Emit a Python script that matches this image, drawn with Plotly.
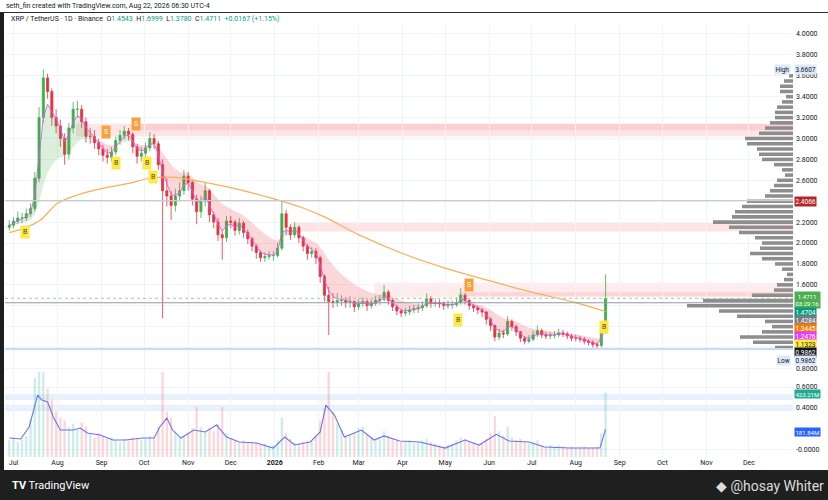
import plotly.graph_objects as go
import pandas as pd

# ---------------- DATA ----------------
start_date = "2025-06-28"          # first candle, 3-day candles
first_open = 2.15
closes = [2.17, 2.21, 2.24, 2.24, 2.28, 2.33, 2.62, 3.20, 3.58, 3.45,
          3.20, 3.12, 3.00, 2.85, 3.10, 3.28, 3.28, 3.16, 3.02, 3.02,
          2.96, 2.90, 2.84, 2.82, 2.87, 2.98, 3.03, 3.07, 3.04, 2.92,
          2.83, 2.86, 2.91, 3.00, 2.95, 2.75, 2.50, 2.45, 2.36, 2.45,
          2.50, 2.64, 2.58, 2.42, 2.30, 2.40, 2.50, 2.27, 2.20, 2.08,
          2.05, 2.21, 2.20, 2.12, 2.19, 2.10, 2.04, 1.97, 1.91, 1.86,
          1.87, 1.88, 1.88, 1.95, 2.28, 2.15, 2.08, 2.15, 2.05, 1.97,
          1.90, 1.92, 1.86, 1.68, 1.50, 1.44, 1.43, 1.45, 1.45, 1.43,
          1.44, 1.39, 1.42, 1.44, 1.40, 1.42, 1.45, 1.46, 1.53, 1.45,
          1.39, 1.35, 1.33, 1.34, 1.36, 1.37, 1.38, 1.40, 1.47, 1.42,
          1.43, 1.42, 1.40, 1.41, 1.41, 1.43, 1.50, 1.45, 1.40, 1.38,
          1.36, 1.34, 1.27, 1.21, 1.10, 1.14, 1.13, 1.25, 1.20, 1.15,
          1.09, 1.06, 1.08, 1.12, 1.16, 1.12, 1.11, 1.12, 1.12, 1.14,
          1.13, 1.11, 1.09, 1.09, 1.08, 1.06, 1.05, 1.03, 1.02, 1.15,
          1.4711]
highs = [2.22, 2.25, 2.30, 2.29, 2.33, 2.38, 2.68, 3.30, 3.66, 3.62,
         3.48, 3.28, 3.18, 3.05, 3.15, 3.35, 3.36, 3.32, 3.20, 3.10,
         3.08, 3.00, 2.94, 2.90, 2.92, 3.02, 3.08, 3.12, 3.10, 3.06,
         2.95, 2.92, 2.96, 3.06, 3.04, 2.98, 2.80, 2.62, 2.50, 2.52,
         2.58, 2.70, 2.68, 2.60, 2.46, 2.45, 2.58, 2.52, 2.30, 2.24,
         2.12, 2.26, 2.26, 2.22, 2.24, 2.21, 2.13, 2.06, 1.99, 1.93,
         1.91, 1.92, 1.92, 2.00, 2.41, 2.32, 2.18, 2.20, 2.17, 2.07,
         1.99, 1.96, 1.95, 1.88, 1.70, 1.58, 1.52, 1.52, 1.50, 1.48,
         1.49, 1.45, 1.46, 1.48, 1.46, 1.46, 1.49, 1.50, 1.60, 1.55,
         1.47, 1.41, 1.37, 1.38, 1.40, 1.41, 1.42, 1.44, 1.52, 1.49,
         1.47, 1.46, 1.44, 1.45, 1.45, 1.48, 1.57, 1.52, 1.47, 1.42,
         1.40, 1.38, 1.35, 1.29, 1.22, 1.18, 1.17, 1.30, 1.27, 1.22,
         1.16, 1.11, 1.12, 1.16, 1.21, 1.18, 1.15, 1.15, 1.16, 1.18,
         1.17, 1.15, 1.13, 1.12, 1.11, 1.10, 1.08, 1.07, 1.05, 1.19,
         1.6999]
lows = [2.12, 2.14, 2.18, 2.19, 2.21, 2.25, 2.30, 2.58, 3.15, 3.38,
        3.12, 3.05, 2.92, 2.75, 2.80, 3.05, 3.20, 3.10, 2.96, 2.95,
        2.90, 2.84, 2.78, 2.76, 2.78, 2.84, 2.94, 2.99, 2.98, 2.86,
        2.76, 2.78, 2.82, 2.88, 2.90, 2.70, 1.28, 2.35, 2.22, 2.30,
        2.40, 2.46, 2.50, 2.36, 2.18, 2.24, 2.35, 2.20, 2.14, 2.02,
        1.84, 2.01, 2.14, 2.07, 2.08, 2.05, 1.99, 1.92, 1.85, 1.82,
        1.82, 1.84, 1.83, 1.86, 1.93, 2.08, 2.03, 2.05, 2.00, 1.92,
        1.84, 1.86, 1.80, 1.62, 1.44, 1.12, 1.38, 1.39, 1.40, 1.38,
        1.38, 1.34, 1.36, 1.39, 1.35, 1.37, 1.40, 1.41, 1.44, 1.41,
        1.35, 1.31, 1.29, 1.30, 1.31, 1.33, 1.33, 1.35, 1.38, 1.38,
        1.39, 1.38, 1.36, 1.37, 1.37, 1.39, 1.41, 1.41, 1.36, 1.34,
        1.32, 1.29, 1.22, 1.16, 1.06, 1.07, 1.09, 1.11, 1.16, 1.11,
        1.05, 1.03, 1.04, 1.06, 1.10, 1.09, 1.08, 1.08, 1.09, 1.10,
        1.10, 1.08, 1.06, 1.06, 1.05, 1.03, 1.02, 1.00, 0.9862, 1.00,
        1.13]
volumes_m = [110, 130, 100, 120, 140, 250, 520, 600, 640, 450,
             380, 300, 260, 240, 200, 220, 180, 230, 200, 150,
             130, 160, 140, 120, 130, 110, 100, 120, 110, 130,
             120, 110, 120, 140, 130, 200, 620, 300, 260, 170,
             130, 140, 160, 190, 330, 200, 170, 190, 170, 220,
             330, 160, 120, 110, 100, 110, 90, 100, 90, 80,
             90, 70, 80, 110, 260, 160, 120, 100, 90, 100,
             110, 100, 140, 240, 320, 720, 300, 220, 180, 140,
             150, 160, 190, 200, 150, 130, 110, 120, 170, 140,
             120, 110, 100, 100, 110, 90, 100, 110, 120, 100,
             90, 80, 70, 80, 90, 110, 130, 120, 100, 90,
             80, 90, 120, 160, 270, 170, 140, 200, 130, 110,
             120, 100, 90, 100, 110, 80, 70, 80, 70, 80,
             70, 60, 70, 60, 60, 70, 60, 60, 70, 160,
             423.21]

vol_ma_dates = ["2025-06-28", "2025-07-06", "2025-07-12", "2025-07-15", "2025-07-18", "2025-07-21",
                "2025-07-25", "2025-07-29", "2025-08-03", "2025-08-12", "2025-08-17", "2025-08-22",
                "2025-08-31", "2025-09-09", "2025-09-18", "2025-09-30", "2025-10-08", "2025-10-12",
                "2025-10-17", "2025-10-21", "2025-10-27", "2025-11-05", "2025-11-13", "2025-11-21",
                "2025-11-28", "2025-12-07", "2025-12-19", "2025-12-31", "2026-01-08", "2026-01-15",
                "2026-01-26", "2026-02-02", "2026-02-06", "2026-02-12", "2026-02-19", "2026-03-03",
                "2026-03-12", "2026-03-19", "2026-03-30", "2026-04-13", "2026-05-01", "2026-05-15",
                "2026-05-25", "2026-06-06", "2026-06-15", "2026-06-29", "2026-07-10", "2026-07-28",
                "2026-08-18", "2026-08-22"]
vol_ma_m = [125, 119, 198, 310, 409, 376, 363, 264, 178, 178, 191, 158,
            145, 112, 112, 125, 125, 198, 257, 178, 125, 178, 165, 211,
            132, 99, 92, 59, 132, 79, 99, 165, 343, 277, 132, 178,
            112, 139, 106, 99, 59, 112, 79, 150, 106, 99, 66, 59,
            59, 181.84]

ma_long_dates = ["2025-06-28", "2025-07-10", "2025-07-20", "2025-08-01", "2025-08-15", "2025-09-01",
                 "2025-09-20", "2025-10-05", "2025-10-20", "2025-11-05", "2025-12-01", "2026-01-01",
                 "2026-01-20", "2026-02-05", "2026-03-01", "2026-04-01", "2026-05-01", "2026-06-01",
                 "2026-07-01", "2026-08-01", "2026-08-22"]
ma_long = [2.10, 2.15, 2.22, 2.38, 2.46, 2.52, 2.57, 2.62, 2.63, 2.60, 2.53, 2.42,
           2.34, 2.25, 2.08, 1.90, 1.76, 1.64, 1.53, 1.43, 1.3445]

signal_dates = ["2025-07-09", "2025-09-04", "2025-09-11", "2025-09-25", "2025-10-03",
                "2025-10-07", "2026-05-10", "2026-05-18", "2026-08-21"]
signal_prices = [2.11, 3.06, 2.77, 3.14, 2.77, 2.63, 1.26, 1.60, 1.20]
signal_kinds = ["B", "S", "B", "S", "B", "B", "B", "S", "B"]

zone_starts = ["2025-08-14", "2025-09-24", "2026-01-13", "2026-03-12", "2026-05-10"]
zone_lows = [3.02, 3.08, 2.11, 1.48, 1.49]
zone_highs = [3.14, 3.14, 2.20, 1.62, 1.53]

profile_prices = [3.60, 3.55, 3.50, 3.45, 3.40, 3.35, 3.30, 3.25, 3.20, 3.15, 3.10, 3.05,
                  3.00, 2.95, 2.90, 2.85, 2.80, 2.75, 2.70, 2.65, 2.60, 2.55, 2.50, 2.45,
                  2.40, 2.35, 2.30, 2.25, 2.20, 2.15, 2.10, 2.05, 2.00, 1.95, 1.90, 1.85,
                  1.80, 1.75, 1.70, 1.65, 1.60, 1.55, 1.50, 1.45, 1.40, 1.35, 1.30, 1.25,
                  1.20, 1.15, 1.10, 1.05, 1.00]
profile_volume = [4, 9, 13, 13, 7, 11, 16, 18, 18, 23, 28, 34,
                  48, 46, 36, 34, 31, 19, 11, 8, 16, 19, 23, 28,
                  46, 51, 58, 61, 80, 64, 54, 38, 31, 33, 43, 31,
                  18, 11, 6, 9, 16, 19, 41, 90, 106, 74, 56, 28,
                  21, 31, 53, 40, 18]

level_lines = [2.4066, 1.4284]
level_colors = ["#c9cbd1", "#9598a1"]
low_price = 0.9862
high_price = 3.6607
last_price = 1.4711

month_ticks = pd.date_range("2025-07-01", "2026-12-01", freq="MS")
month_text = ["Jul", "Aug", "Sep", "Oct", "Nov", "Dec", "<b>2026</b>", "Feb", "Mar", "Apr",
              "May", "Jun", "Jul", "Aug", "Sep", "Oct", "Nov", "Dec"]
price_ticks = [round(0.8 + 0.2 * k, 1) for k in range(17)]
hidden_price_ticks = [1.0, 1.2, 1.4, 2.4]          # covered by value labels in the reference
osc_ticks = [0.0, 0.4, 0.6]
osc_text = ["-0.0000", "0.4000", "0.6000"]
osc_bands = [(0.476, 0.533), (0.371, 0.43)]

# ---------------- derived ----------------
dates = pd.date_range(start_date, periods=len(closes), freq="3D")
opens = [first_open] + closes[:-1]


def ema(vals, span):
    a = 2.0 / (span + 1)
    out, e = [], vals[0]
    for v in vals:
        e = a * v + (1 - a) * e
        out.append(e)
    return out


fast = ema(closes, 3)
slow = ema(closes, 14)

# ---------------- layout geometry ----------------
W, H = 828, 500
ML, MR, MT, MB = 5, 35, 25, 43
PW, PH = W - ML - MR, H - MT - MB


def fx(px):
    return (px - ML) / PW


def fy(py):
    return (H - MB - py) / PH


price_dom = [fy(372), 1.0]
osc_dom = [0.0, fy(372)]
FONT = "Roboto"
TXT = "#131722"

fig = go.Figure()

# cloud between fast/slow EMAs
runs, cur = [], [0]
for i in range(1, len(dates)):
    if (fast[i] >= slow[i]) == (fast[cur[0]] >= slow[cur[0]]):
        cur.append(i)
    else:
        cur.append(i)
        runs.append(cur)
        cur = [i]
runs.append(cur)
for r in runs:
    mid = r[len(r) // 2]
    up = fast[mid] >= slow[mid]
    xs = [dates[i] for i in r] + [dates[i] for i in reversed(r)]
    ys = [fast[i] for i in r] + [slow[i] for i in reversed(r)]
    fig.add_trace(go.Scatter(x=xs, y=ys, fill="toself", mode="lines", line=dict(width=0),
                             fillcolor="rgba(76,175,80,0.20)" if up else "rgba(242,54,69,0.20)",
                             hoverinfo="skip", showlegend=False))

# volume profile on the right
fig.add_trace(go.Bar(y=profile_prices, x=profile_volume, orientation="h", xaxis="x2", yaxis="y",
                     width=0.034, marker=dict(color="#8d8d8d", line=dict(width=0)),
                     showlegend=False, hoverinfo="skip"))

# long MA
fig.add_trace(go.Scatter(x=pd.to_datetime(ma_long_dates), y=ma_long, mode="lines",
                         line=dict(color="#f7b05a", width=1.2, shape="spline"), showlegend=False))
# fast EMA
fig.add_trace(go.Scatter(x=dates, y=fast, mode="lines", line=dict(color="#d65be8", width=0.9),
                         showlegend=False))

# candles
fig.add_trace(go.Candlestick(x=dates, open=opens, high=highs, low=lows, close=closes,
                             increasing=dict(line=dict(color="#3fae49", width=0.8), fillcolor="#3fae49"),
                             decreasing=dict(line=dict(color="#e5333f", width=0.8), fillcolor="#e5333f"),
                             whiskerwidth=0, showlegend=False))

# volume pane
vcol = ["rgba(34,171,148,0.22)" if c >= o else "rgba(242,54,69,0.20)" for o, c in zip(opens, closes)]
fig.add_trace(go.Bar(x=dates, y=volumes_m, marker=dict(color=vcol, line=dict(width=0)),
                     xaxis="x", yaxis="y3", showlegend=False))
fig.add_trace(go.Scatter(x=pd.to_datetime(vol_ma_dates), y=vol_ma_m, mode="lines",
                         line=dict(color="#6f72e8", width=1.1), xaxis="x", yaxis="y3", showlegend=False))
fig.add_trace(go.Scatter(x=[dates[0]], y=[0], mode="markers", marker=dict(opacity=0),
                         xaxis="x", yaxis="y2", showlegend=False, hoverinfo="skip"))

shapes = []
end_x = "2027-01-01"
zone_cols = ["rgba(242,54,69,0.13)", "rgba(242,54,69,0.12)", "rgba(242,54,69,0.14)",
             "rgba(242,54,69,0.10)", "rgba(242,54,69,0.12)"]
for s, lo, hi, c in zip(zone_starts, zone_lows, zone_highs, zone_cols):
    shapes.append(dict(type="rect", xref="x", yref="y", x0=s, x1=end_x, y0=lo, y1=hi,
                       fillcolor=c, line=dict(width=0), layer="below"))
for lv, lc in zip(level_lines, level_colors):
    shapes.append(dict(type="line", xref="paper", yref="y", x0=0, x1=1, y0=lv, y1=lv,
                       line=dict(color=lc, width=1.2)))
shapes.append(dict(type="line", xref="paper", yref="y", x0=0, x1=1, y0=low_price, y1=low_price,
                   line=dict(color="#c8dcf5", width=2)))
shapes.append(dict(type="line", xref="paper", yref="y", x0=0, x1=1, y0=last_price, y1=last_price,
                   line=dict(color="#9fd3a3", width=1, dash="dot")))
for lo, hi in osc_bands:
    shapes.append(dict(type="rect", xref="paper", yref="y2", x0=0, x1=1, y0=lo, y1=hi,
                       fillcolor="rgba(100,160,230,0.15)", line=dict(width=0), layer="below"))
# frame: left strip, top rule, footer
shapes.append(dict(type="rect", xref="paper", yref="paper", x0=fx(0), x1=fx(4), y0=fy(470), y1=fy(12.5),
                   fillcolor="#1e1e1e", line=dict(width=0)))
shapes.append(dict(type="line", xref="paper", yref="paper", x0=fx(0), x1=fx(828), y0=fy(12.5), y1=fy(12.5),
                   line=dict(color="#2a2e39", width=1)))
shapes.append(dict(type="rect", xref="paper", yref="paper", x0=fx(0), x1=fx(828), y0=fy(500), y1=fy(470),
                   fillcolor="#1f1f1f", line=dict(width=0)))

ann = []
# header
ann.append(dict(xref="paper", yref="paper", x=fx(4), y=fy(6), xanchor="left", yanchor="middle",
                text="seth_fin created with TradingView.com, Aug 22, 2026 06:30 UTC-4",
                showarrow=False, font=dict(size=7, color=TXT, family=FONT)))
g = "#089981"
hdr = ("XRP / TetherUS · 1D · Binance &nbsp;O<span style='color:%s'>1.4543</span> "
       "&nbsp;H<span style='color:%s'>1.6999</span> &nbsp;L<span style='color:%s'>1.3780</span> "
       "&nbsp;C<span style='color:%s'>1.4711</span> &nbsp;<span style='color:%s'>+0.0167 (+1.15%%)</span>") % (g, g, g, g, g)
ann.append(dict(xref="paper", yref="paper", x=fx(9), y=fy(19), xanchor="left", yanchor="middle",
                text=hdr, showarrow=False, font=dict(size=7, color=TXT, family=FONT)))

# signals
for d, p, k in zip(signal_dates, signal_prices, signal_kinds):
    ann.append(dict(x=d, y=p, xref="x", yref="y", text=k, showarrow=False,
                    bgcolor="#f6a13a" if k == "S" else "#fbe94a",
                    font=dict(size=7, color="#ffffff" if k == "S" else "#5a4a00", family=FONT),
                    borderpad=2))


# right price labels
def rlab(py, text, bg, fg="#ffffff", x=794, anchor="left", size=6.5):
    ann.append(dict(xref="paper", yref="paper", x=fx(x), y=fy(py), xanchor=anchor, yanchor="middle",
                    text=text, showarrow=False, bgcolor=bg, borderpad=0.5,
                    font=dict(size=size, color=fg, family=FONT)))


rlab(70, "High", "#dde9f8", TXT, x=791, anchor="right")
rlab(70, "%.4f" % high_price, "#dde9f8", TXT)
rlab(201, "2.4066", "#b3282d")
rlab(300, "%.4f<br>03:29:16" % last_price, "#4caf50", size=6)
rlab(312.5, "1.4704", "#089981")
rlab(320.5, "1.4284", "#787b86")
rlab(328.5, "1.3445", "#f57c00")
rlab(336.5, "1.2476", "#e040fb")
rlab(344.5, "1.1323", "#ffeb3b", TXT)
rlab(352.5, "%.4f" % low_price, "#131722")
rlab(360.5, "Low", "#dde9f8", TXT, x=791, anchor="right")
rlab(360.5, "%.4f" % low_price, "#dde9f8", TXT)
rlab(394, "423.21M", "#22ab94", size=6)
rlab(432, "181.84M", "#2962ff", size=6)

# footer
ann.append(dict(xref="paper", yref="paper", x=fx(10), y=fy(486), xanchor="left", yanchor="middle",
                text="<b>TV</b> TradingView", showarrow=False,
                font=dict(size=11, color="#ffffff", family=FONT)))
ann.append(dict(xref="paper", yref="paper", x=fx(826), y=fy(486), xanchor="right", yanchor="middle",
                text="◆ @hosay Whiter", showarrow=False,
                font=dict(size=14, color="rgba(255,255,255,0.85)", family=FONT)))

fig.update_layout(
    width=W, height=H, autosize=False,
    margin=dict(l=ML, r=MR, t=MT, b=MB),
    paper_bgcolor="#ffffff", plot_bgcolor="#ffffff",
    showlegend=False, bargap=0.45,
    font=dict(family=FONT, size=7, color=TXT),
    xaxis=dict(type="date", range=["2025-06-25", "2027-01-01"], anchor="y2", domain=[0, 1],
               tickvals=month_ticks, ticktext=month_text, tickfont=dict(size=7, color=TXT),
               showgrid=True, gridcolor="#f0f3fa", gridwidth=1, zeroline=False,
               showline=False, ticks="", rangeslider=dict(visible=False)),
    xaxis2=dict(overlaying="x", range=[PW, 0], visible=False, anchor="y"),
    yaxis=dict(domain=price_dom, range=[0.766, 4.086], side="right", tickvals=price_ticks,
               ticktext=["" if v in hidden_price_ticks else "%.4f" % v for v in price_ticks],
               tickfont=dict(size=7, color=TXT), ticklabelstandoff=2,
               showgrid=True, gridcolor="#f0f3fa", zeroline=False, showline=False, ticks=""),
    yaxis2=dict(domain=osc_dom, range=[-0.067, 0.743], side="right", tickvals=osc_ticks,
                ticktext=osc_text, tickfont=dict(size=7, color=TXT), anchor="x", ticklabelstandoff=2,
                showgrid=True, gridcolor="#f0f3fa", zeroline=False, showline=False, ticks=""),
    yaxis3=dict(overlaying="y2", range=[0, 561], visible=False),
    shapes=shapes, annotations=ann,
)

fig.write_html("out.html", config={"displayModeBar": False},
               post_script="document.body.style.margin='0';document.body.style.overflow='hidden';")
